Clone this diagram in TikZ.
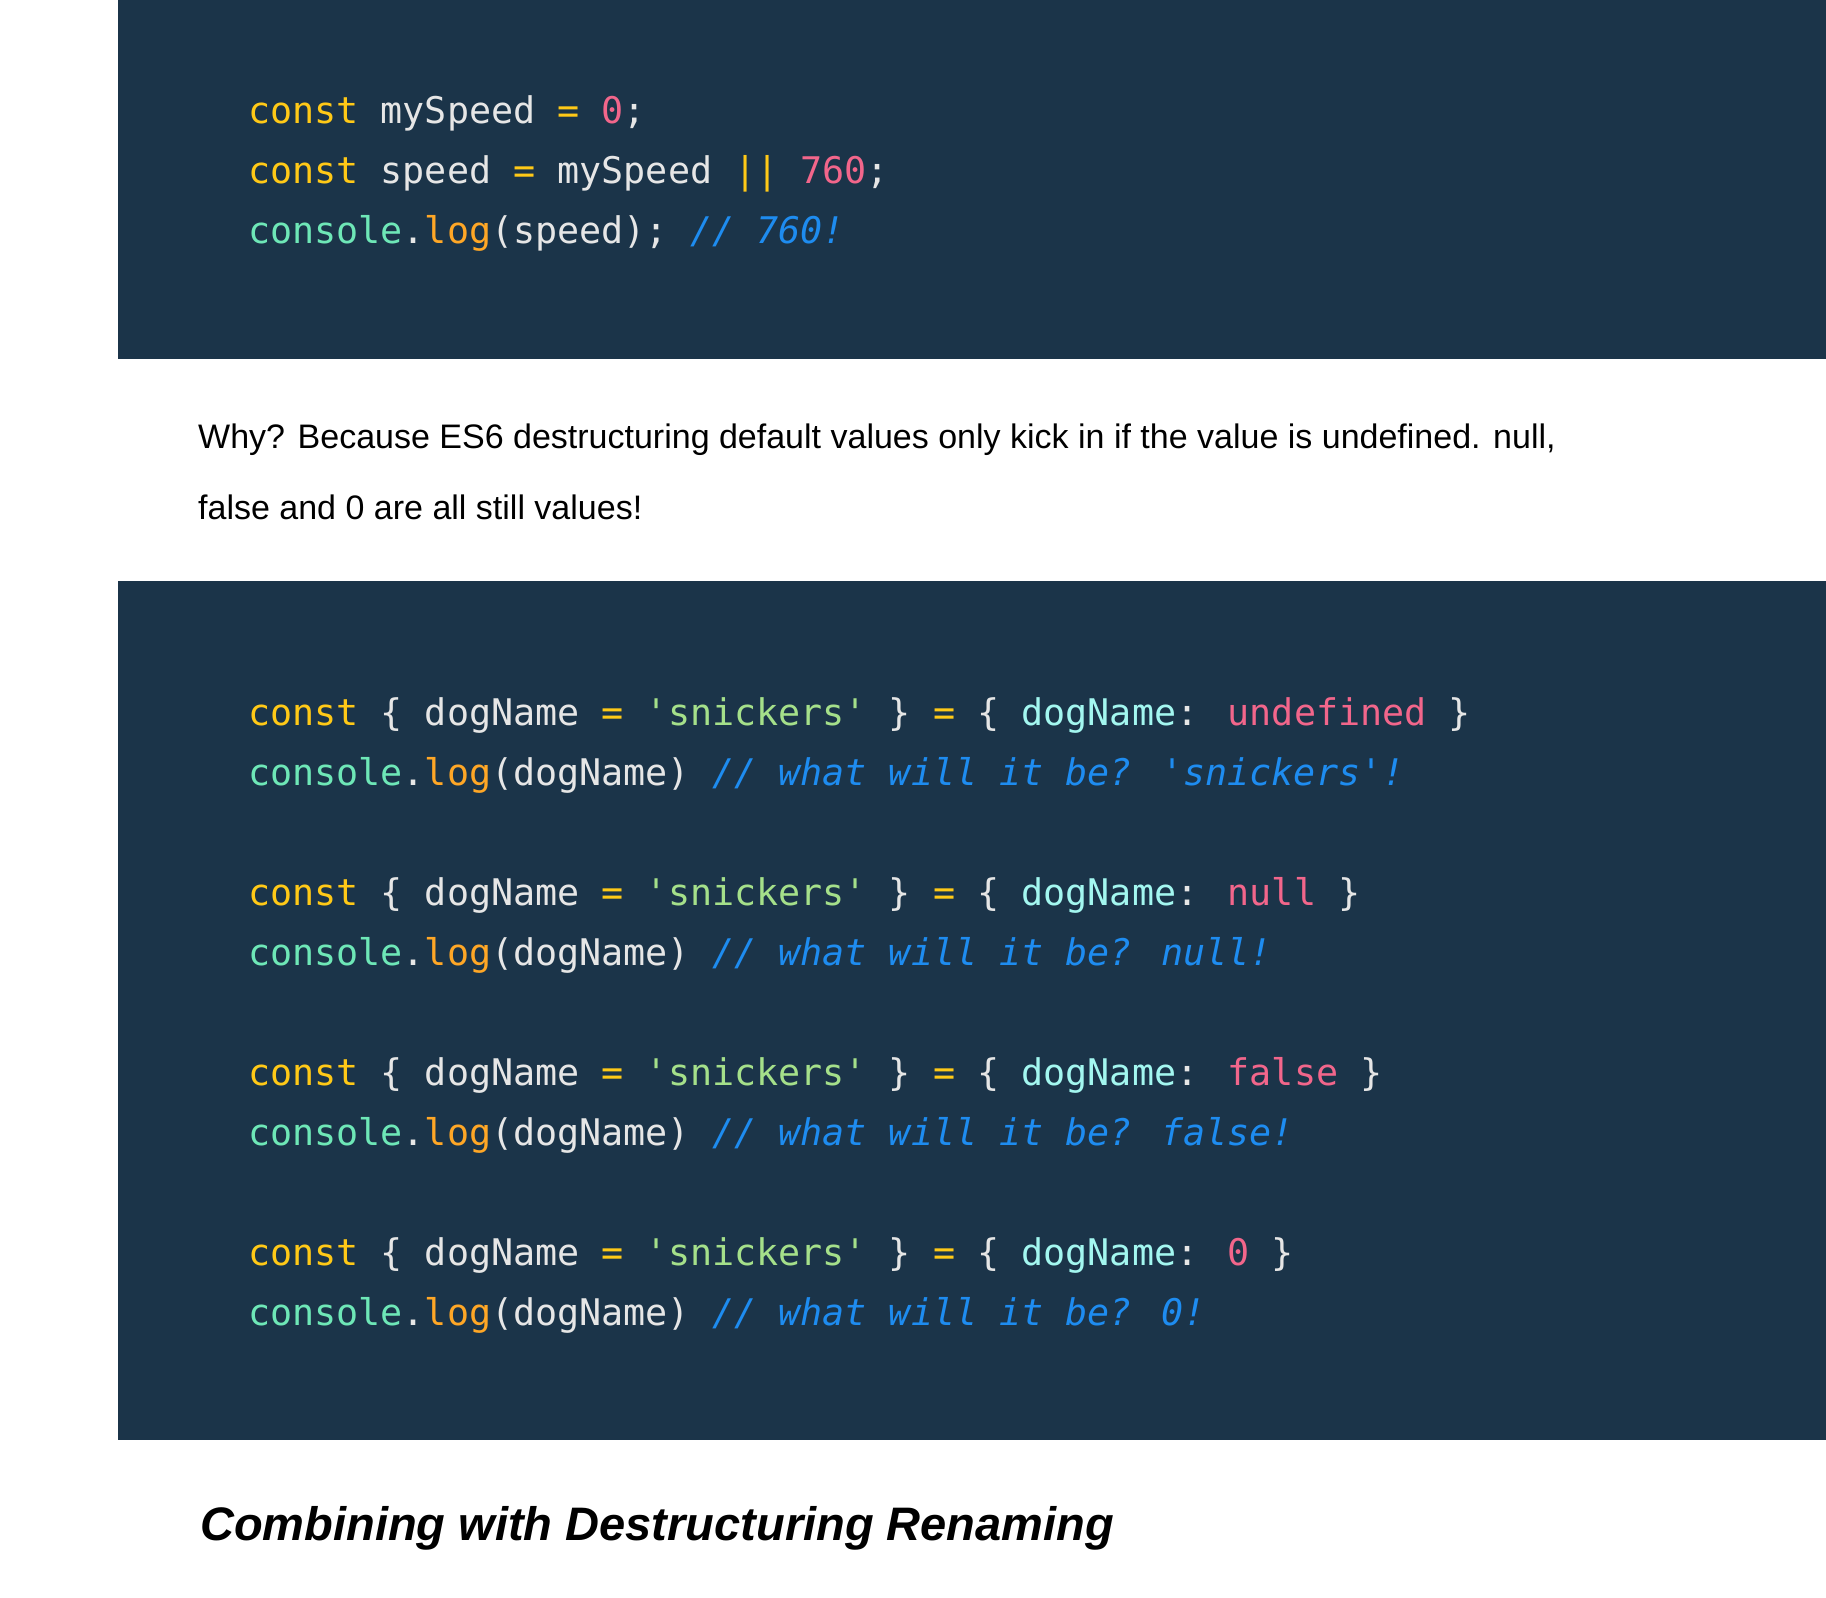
\documentclass[tikz,border=0pt]{standalone}
\usepackage{fontspec}
\setmainfont{Liberation Sans}
\newfontfamily\code{DejaVu Sans Mono}
\usetikzlibrary{positioning}
\definecolor{bg}{HTML}{1B3449}
\definecolor{kw}{HTML}{FFC917}
\definecolor{tx}{HTML}{E6E6E6}
\definecolor{nm}{HTML}{F2668B}
\definecolor{cs}{HTML}{6EE7B7}
\definecolor{lg}{HTML}{FFA726}
\definecolor{cm}{HTML}{1E8CF0}
\definecolor{st}{HTML}{A5E08A}
\definecolor{pr}{HTML}{A3F7F0}
\newcommand{\K}[1]{\textcolor{kw}{#1}}
\newcommand{\N}[1]{\textcolor{nm}{#1}}
\newcommand{\C}{\textcolor{cs}{console}.\textcolor{lg}{log}}
\newcommand{\M}[1]{\textcolor{cm}{\itshape #1}}
\newcommand{\St}[1]{\textcolor{st}{#1}}
\newcommand{\Pp}[1]{\textcolor{pr}{#1}}
\tikzset{codeline/.style={anchor=base west,inner sep=0pt,text=tx,font=\code\fontsize{36.7}{44}\selectfont},
 para/.style={anchor=base west,inner sep=0pt,text=black,font=\fontsize{34}{40}\selectfont}}
\begin{document}
\begin{tikzpicture}[x=1pt,y=-1pt]
\useasboundingbox (0,0) rectangle (1826,1598);
\fill[white] (0,0) rectangle (1826,1598);
\fill[bg] (118,0) rectangle (1826,359);
\fill[bg] (118,581) rectangle (1826,1440);
\node[codeline] (a1) at (248,123) {\K{const} mySpeed \K{=} \N{0};};
\node[codeline] (a2) at (248,183) {\K{const} speed \K{=} mySpeed \K{||} \N{760};};
\node[codeline] (a3) at (248,243) {\C(speed); \M{// 760!}};
\node[para] (p1) at (198,448) {Why? Because ES6 destructuring default values only kick in if the value is undefined. null,};
\node[para] (p2) at (198,519) {false and 0 are all still values!};
\node[codeline] (b1) at (248,725) {\K{const} \{ dogName \K{=} \St{'snickers'} \} \K{=} \{ \Pp{dogName}: \N{undefined} \}};
\node[codeline] (b2) at (248,785) {\C(dogName) \M{// what will it be? 'snickers'!}};
\node[codeline] (b3) at (248,905) {\K{const} \{ dogName \K{=} \St{'snickers'} \} \K{=} \{ \Pp{dogName}: \N{null} \}};
\node[codeline] (b4) at (248,965) {\C(dogName) \M{// what will it be? null!}};
\node[codeline] (b5) at (248,1085) {\K{const} \{ dogName \K{=} \St{'snickers'} \} \K{=} \{ \Pp{dogName}: \N{false} \}};
\node[codeline] (b6) at (248,1145) {\C(dogName) \M{// what will it be? false!}};
\node[codeline] (b7) at (248,1265) {\K{const} \{ dogName \K{=} \St{'snickers'} \} \K{=} \{ \Pp{dogName}: \N{0} \}};
\node[codeline] (b8) at (248,1325) {\C(dogName) \M{// what will it be? 0!}};
\node[anchor=base west,inner sep=0pt,font=\fontsize{47}{54}\selectfont\bfseries\itshape] (h) at (200,1540) {Combining with Destructuring Renaming};
\end{tikzpicture}
\end{document}
